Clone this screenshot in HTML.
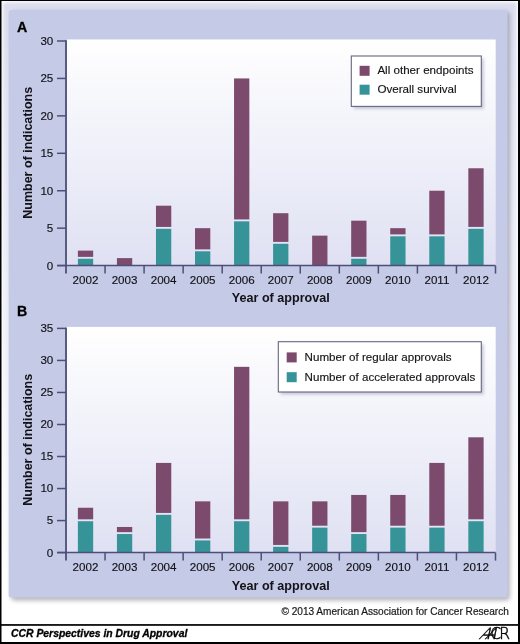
<!DOCTYPE html>
<html><head><meta charset="utf-8"><style>
html,body{margin:0;padding:0;background:#fff;}
body{width:520px;height:644px;overflow:hidden;position:relative;}
svg{position:absolute;left:0;top:0;display:block;}
text{font-family:"Liberation Sans",sans-serif;fill:#121218;}
.tk{font-size:11.6px;stroke:#121218;stroke-width:0.15px;}
.ttl{font-size:12.6px;font-weight:bold;}
.ytl{font-size:12.5px;font-weight:bold;}
.lbl{font-size:14.2px;font-weight:bold;fill:#000;stroke:#000;stroke-width:0.3px;}
.lg{font-size:11.6px;fill:#141418;stroke:#141418;stroke-width:0.15px;}
.cp{font-size:10.1px;fill:#1a1a1a;stroke:#1a1a1a;stroke-width:0.2px;}
.ft{font-size:10.4px;font-weight:bold;font-style:italic;fill:#000;stroke:#000;stroke-width:0.3px;}
.logo{font-family:"DejaVu Sans",sans-serif;font-weight:200;font-size:15.5px;fill:#000;stroke:#000;stroke-width:0.45px;}
</style></head><body>
<svg width="520" height="644" viewBox="0 0 520 644">
<defs>
<linearGradient id="pg" x1="0" y1="0" x2="0" y2="1"><stop offset="0" stop-color="#ffffff"/><stop offset="1" stop-color="#dfe1f3"/></linearGradient>
<filter id="bl" x="-20%" y="-20%" width="140%" height="140%"><feGaussianBlur stdDeviation="1.6"/></filter>
<linearGradient id="mg" x1="0" y1="0" x2="0" y2="1"><stop offset="0" stop-color="#dcdeef"/><stop offset="0.45" stop-color="#eceef7"/><stop offset="1" stop-color="#ffffff"/></linearGradient>
<filter id="gl" x="-5%" y="-5%" width="110%" height="110%"><feGaussianBlur stdDeviation="1.5"/></filter>
<filter id="pe" x="-2%" y="-2%" width="104%" height="104%"><feGaussianBlur stdDeviation="0.6"/></filter>
<filter id="sh" x="-5%" y="-5%" width="110%" height="110%"><feGaussianBlur stdDeviation="2.2"/></filter>
</defs>
<rect width="520" height="644" fill="#ffffff"/>
<rect x="2.8" y="2.2" width="514" height="596" rx="3" fill="url(#mg)" filter="url(#gl)"/>
<rect x="11" y="11.5" width="499" height="589" rx="4" fill="#7a7b8c" opacity="0.55" filter="url(#sh)"/>
<rect x="8.7" y="10.0" width="498.9" height="587.5" rx="2.5" fill="#c5cae6" filter="url(#pe)"/>
<rect x="67" y="39.50" width="428.70" height="226.10" fill="url(#pg)"/>
<rect x="77.87" y="258.76" width="15.3" height="6.84" fill="#369397"/>
<rect x="77.87" y="250.63" width="15.3" height="6.24" fill="#7c4a6d"/>
<rect x="116.92" y="258.11" width="15.3" height="7.49" fill="#7c4a6d"/>
<rect x="155.96" y="228.82" width="15.3" height="36.78" fill="#369397"/>
<rect x="155.96" y="205.71" width="15.3" height="21.21" fill="#7c4a6d"/>
<rect x="195.01" y="251.28" width="15.3" height="14.32" fill="#369397"/>
<rect x="195.01" y="228.17" width="15.3" height="21.21" fill="#7c4a6d"/>
<rect x="234.05" y="221.33" width="15.3" height="44.27" fill="#369397"/>
<rect x="234.05" y="78.43" width="15.3" height="141.00" fill="#7c4a6d"/>
<rect x="273.10" y="243.79" width="15.3" height="21.81" fill="#369397"/>
<rect x="273.10" y="213.19" width="15.3" height="28.70" fill="#7c4a6d"/>
<rect x="312.15" y="235.65" width="15.3" height="29.95" fill="#7c4a6d"/>
<rect x="351.19" y="258.76" width="15.3" height="6.84" fill="#369397"/>
<rect x="351.19" y="220.68" width="15.3" height="36.18" fill="#7c4a6d"/>
<rect x="390.24" y="236.30" width="15.3" height="29.30" fill="#369397"/>
<rect x="390.24" y="228.17" width="15.3" height="6.24" fill="#7c4a6d"/>
<rect x="429.28" y="236.30" width="15.3" height="29.30" fill="#369397"/>
<rect x="429.28" y="190.73" width="15.3" height="43.67" fill="#7c4a6d"/>
<rect x="468.33" y="228.82" width="15.3" height="36.78" fill="#369397"/>
<rect x="468.33" y="168.27" width="15.3" height="58.64" fill="#7c4a6d"/>
<line x1="57.3" y1="265.60" x2="495.50" y2="265.60" stroke="#4e4f78" stroke-width="1.5"/>
<line x1="66.00" y1="40.25" x2="66.00" y2="273.60" stroke="#4e4f78" stroke-width="1.8"/>
<line x1="57" y1="265.60" x2="66.00" y2="265.60" stroke="#4e4f78" stroke-width="1.5"/>
<text x="53.3" y="269.50" text-anchor="end" class="tk">0</text>
<line x1="57" y1="228.17" x2="66.00" y2="228.17" stroke="#4e4f78" stroke-width="1.5"/>
<text x="53.3" y="232.07" text-anchor="end" class="tk">5</text>
<line x1="57" y1="190.73" x2="66.00" y2="190.73" stroke="#4e4f78" stroke-width="1.5"/>
<text x="53.3" y="194.63" text-anchor="end" class="tk">10</text>
<line x1="57" y1="153.30" x2="66.00" y2="153.30" stroke="#4e4f78" stroke-width="1.5"/>
<text x="53.3" y="157.20" text-anchor="end" class="tk">15</text>
<line x1="57" y1="115.87" x2="66.00" y2="115.87" stroke="#4e4f78" stroke-width="1.5"/>
<text x="53.3" y="119.77" text-anchor="end" class="tk">20</text>
<line x1="57" y1="78.43" x2="66.00" y2="78.43" stroke="#4e4f78" stroke-width="1.5"/>
<text x="53.3" y="82.33" text-anchor="end" class="tk">25</text>
<line x1="57" y1="41.00" x2="66.00" y2="41.00" stroke="#4e4f78" stroke-width="1.5"/>
<text x="53.3" y="44.90" text-anchor="end" class="tk">30</text>
<line x1="105.05" y1="265.60" x2="105.05" y2="273.60" stroke="#4e4f78" stroke-width="1.5"/>
<line x1="144.09" y1="265.60" x2="144.09" y2="273.60" stroke="#4e4f78" stroke-width="1.5"/>
<line x1="183.14" y1="265.60" x2="183.14" y2="273.60" stroke="#4e4f78" stroke-width="1.5"/>
<line x1="222.18" y1="265.60" x2="222.18" y2="273.60" stroke="#4e4f78" stroke-width="1.5"/>
<line x1="261.23" y1="265.60" x2="261.23" y2="273.60" stroke="#4e4f78" stroke-width="1.5"/>
<line x1="300.27" y1="265.60" x2="300.27" y2="273.60" stroke="#4e4f78" stroke-width="1.5"/>
<line x1="339.32" y1="265.60" x2="339.32" y2="273.60" stroke="#4e4f78" stroke-width="1.5"/>
<line x1="378.36" y1="265.60" x2="378.36" y2="273.60" stroke="#4e4f78" stroke-width="1.5"/>
<line x1="417.41" y1="265.60" x2="417.41" y2="273.60" stroke="#4e4f78" stroke-width="1.5"/>
<line x1="456.45" y1="265.60" x2="456.45" y2="273.60" stroke="#4e4f78" stroke-width="1.5"/>
<line x1="495.50" y1="265.60" x2="495.50" y2="273.60" stroke="#4e4f78" stroke-width="1.5"/>
<text x="85.52" y="283.80" text-anchor="middle" class="tk">2002</text>
<text x="124.57" y="283.80" text-anchor="middle" class="tk">2003</text>
<text x="163.61" y="283.80" text-anchor="middle" class="tk">2004</text>
<text x="202.66" y="283.80" text-anchor="middle" class="tk">2005</text>
<text x="241.70" y="283.80" text-anchor="middle" class="tk">2006</text>
<text x="280.75" y="283.80" text-anchor="middle" class="tk">2007</text>
<text x="319.80" y="283.80" text-anchor="middle" class="tk">2008</text>
<text x="358.84" y="283.80" text-anchor="middle" class="tk">2009</text>
<text x="397.89" y="283.80" text-anchor="middle" class="tk">2010</text>
<text x="436.93" y="283.80" text-anchor="middle" class="tk">2011</text>
<text x="475.98" y="283.80" text-anchor="middle" class="tk">2012</text>
<text x="280.8" y="302.40" text-anchor="middle" class="ttl">Year of approval</text>
<text transform="translate(32.3 152.80) rotate(-90)" text-anchor="middle" class="ytl">Number of indications</text>
<text x="17" y="31.90" class="lbl">A</text>
<rect x="353.8" y="58.5" width="130.0" height="50.400000000000006" fill="#8a8aa8" opacity="0.45" filter="url(#bl)"/>
<rect x="351.3" y="56.0" width="130.0" height="50.400000000000006" fill="#ffffff" stroke="#66677e" stroke-width="1.1"/>
<rect x="359.6" y="65.80" width="10" height="10" fill="#7c4a6d"/>
<rect x="359.6" y="84.70" width="10" height="10" fill="#369397"/>
<text x="377.4" y="74.40" class="lg">All other endpoints</text>
<text x="377.4" y="93.30" class="lg">Overall survival</text>
<rect x="67" y="326.90" width="428.70" height="225.70" fill="url(#pg)"/>
<rect x="77.87" y="521.22" width="15.3" height="31.38" fill="#369397"/>
<rect x="77.87" y="507.76" width="15.3" height="11.56" fill="#7c4a6d"/>
<rect x="116.92" y="534.03" width="15.3" height="18.57" fill="#369397"/>
<rect x="116.92" y="526.98" width="15.3" height="5.16" fill="#7c4a6d"/>
<rect x="155.96" y="514.82" width="15.3" height="37.78" fill="#369397"/>
<rect x="155.96" y="462.92" width="15.3" height="50.00" fill="#7c4a6d"/>
<rect x="195.01" y="540.44" width="15.3" height="12.16" fill="#369397"/>
<rect x="195.01" y="501.35" width="15.3" height="37.18" fill="#7c4a6d"/>
<rect x="234.05" y="521.22" width="15.3" height="31.38" fill="#369397"/>
<rect x="234.05" y="366.83" width="15.3" height="152.49" fill="#7c4a6d"/>
<rect x="273.10" y="546.84" width="15.3" height="5.76" fill="#369397"/>
<rect x="273.10" y="501.35" width="15.3" height="43.59" fill="#7c4a6d"/>
<rect x="312.15" y="527.63" width="15.3" height="24.97" fill="#369397"/>
<rect x="312.15" y="501.35" width="15.3" height="24.37" fill="#7c4a6d"/>
<rect x="351.19" y="534.03" width="15.3" height="18.57" fill="#369397"/>
<rect x="351.19" y="494.95" width="15.3" height="37.18" fill="#7c4a6d"/>
<rect x="390.24" y="527.63" width="15.3" height="24.97" fill="#369397"/>
<rect x="390.24" y="494.95" width="15.3" height="30.78" fill="#7c4a6d"/>
<rect x="429.28" y="527.63" width="15.3" height="24.97" fill="#369397"/>
<rect x="429.28" y="462.92" width="15.3" height="62.81" fill="#7c4a6d"/>
<rect x="468.33" y="521.22" width="15.3" height="31.38" fill="#369397"/>
<rect x="468.33" y="437.30" width="15.3" height="82.02" fill="#7c4a6d"/>
<line x1="57.3" y1="552.60" x2="495.50" y2="552.60" stroke="#4e4f78" stroke-width="1.5"/>
<line x1="66.00" y1="327.65" x2="66.00" y2="560.60" stroke="#4e4f78" stroke-width="1.8"/>
<line x1="57" y1="552.60" x2="66.00" y2="552.60" stroke="#4e4f78" stroke-width="1.5"/>
<text x="53.3" y="556.50" text-anchor="end" class="tk">0</text>
<line x1="57" y1="520.57" x2="66.00" y2="520.57" stroke="#4e4f78" stroke-width="1.5"/>
<text x="53.3" y="524.47" text-anchor="end" class="tk">5</text>
<line x1="57" y1="488.54" x2="66.00" y2="488.54" stroke="#4e4f78" stroke-width="1.5"/>
<text x="53.3" y="492.44" text-anchor="end" class="tk">10</text>
<line x1="57" y1="456.51" x2="66.00" y2="456.51" stroke="#4e4f78" stroke-width="1.5"/>
<text x="53.3" y="460.41" text-anchor="end" class="tk">15</text>
<line x1="57" y1="424.49" x2="66.00" y2="424.49" stroke="#4e4f78" stroke-width="1.5"/>
<text x="53.3" y="428.39" text-anchor="end" class="tk">20</text>
<line x1="57" y1="392.46" x2="66.00" y2="392.46" stroke="#4e4f78" stroke-width="1.5"/>
<text x="53.3" y="396.36" text-anchor="end" class="tk">25</text>
<line x1="57" y1="360.43" x2="66.00" y2="360.43" stroke="#4e4f78" stroke-width="1.5"/>
<text x="53.3" y="364.33" text-anchor="end" class="tk">30</text>
<line x1="57" y1="328.40" x2="66.00" y2="328.40" stroke="#4e4f78" stroke-width="1.5"/>
<text x="53.3" y="332.30" text-anchor="end" class="tk">35</text>
<line x1="105.05" y1="552.60" x2="105.05" y2="560.60" stroke="#4e4f78" stroke-width="1.5"/>
<line x1="144.09" y1="552.60" x2="144.09" y2="560.60" stroke="#4e4f78" stroke-width="1.5"/>
<line x1="183.14" y1="552.60" x2="183.14" y2="560.60" stroke="#4e4f78" stroke-width="1.5"/>
<line x1="222.18" y1="552.60" x2="222.18" y2="560.60" stroke="#4e4f78" stroke-width="1.5"/>
<line x1="261.23" y1="552.60" x2="261.23" y2="560.60" stroke="#4e4f78" stroke-width="1.5"/>
<line x1="300.27" y1="552.60" x2="300.27" y2="560.60" stroke="#4e4f78" stroke-width="1.5"/>
<line x1="339.32" y1="552.60" x2="339.32" y2="560.60" stroke="#4e4f78" stroke-width="1.5"/>
<line x1="378.36" y1="552.60" x2="378.36" y2="560.60" stroke="#4e4f78" stroke-width="1.5"/>
<line x1="417.41" y1="552.60" x2="417.41" y2="560.60" stroke="#4e4f78" stroke-width="1.5"/>
<line x1="456.45" y1="552.60" x2="456.45" y2="560.60" stroke="#4e4f78" stroke-width="1.5"/>
<line x1="495.50" y1="552.60" x2="495.50" y2="560.60" stroke="#4e4f78" stroke-width="1.5"/>
<text x="85.52" y="570.60" text-anchor="middle" class="tk">2002</text>
<text x="124.57" y="570.60" text-anchor="middle" class="tk">2003</text>
<text x="163.61" y="570.60" text-anchor="middle" class="tk">2004</text>
<text x="202.66" y="570.60" text-anchor="middle" class="tk">2005</text>
<text x="241.70" y="570.60" text-anchor="middle" class="tk">2006</text>
<text x="280.75" y="570.60" text-anchor="middle" class="tk">2007</text>
<text x="319.80" y="570.60" text-anchor="middle" class="tk">2008</text>
<text x="358.84" y="570.60" text-anchor="middle" class="tk">2009</text>
<text x="397.89" y="570.60" text-anchor="middle" class="tk">2010</text>
<text x="436.93" y="570.60" text-anchor="middle" class="tk">2011</text>
<text x="475.98" y="570.60" text-anchor="middle" class="tk">2012</text>
<text x="280.8" y="589.50" text-anchor="middle" class="ttl">Year of approval</text>
<text transform="translate(32.3 439.80) rotate(-90)" text-anchor="middle" class="ytl">Number of indications</text>
<text x="17" y="315.70" class="lbl">B</text>
<rect x="280.8" y="344.2" width="203.0" height="50.30000000000001" fill="#8a8aa8" opacity="0.45" filter="url(#bl)"/>
<rect x="278.3" y="341.7" width="203.0" height="50.30000000000001" fill="#ffffff" stroke="#66677e" stroke-width="1.1"/>
<rect x="286.7" y="352.40" width="10" height="10" fill="#7c4a6d"/>
<rect x="286.7" y="372.20" width="10" height="10" fill="#369397"/>
<text x="304.6" y="361.00" class="lg">Number of regular approvals</text>
<text x="304.6" y="380.80" class="lg">Number of accelerated approvals</text>
<text x="508.8" y="614.6" text-anchor="end" class="cp">© 2013 American Association for Cancer Research</text>
<rect x="0" y="0" width="520" height="1" fill="#000"/>
<rect x="0" y="0" width="1.5" height="644" fill="#000"/>
<rect x="518" y="0" width="2" height="644" fill="#000"/>
<rect x="0" y="642" width="520" height="2" fill="#000"/>
<rect x="0" y="624.1" width="520" height="1.7" fill="#000"/>
<text x="11" y="636.6" class="ft">CCR Perspectives in Drug Approval</text>
<text transform="translate(478.6 639.3) skewX(-30)" class="logo">A<tspan dx="-4.8">A</tspan></text>
<text x="490.3" y="639.3" class="logo">C<tspan dx="-1.8">R</tspan></text>
</svg>
</body></html>
